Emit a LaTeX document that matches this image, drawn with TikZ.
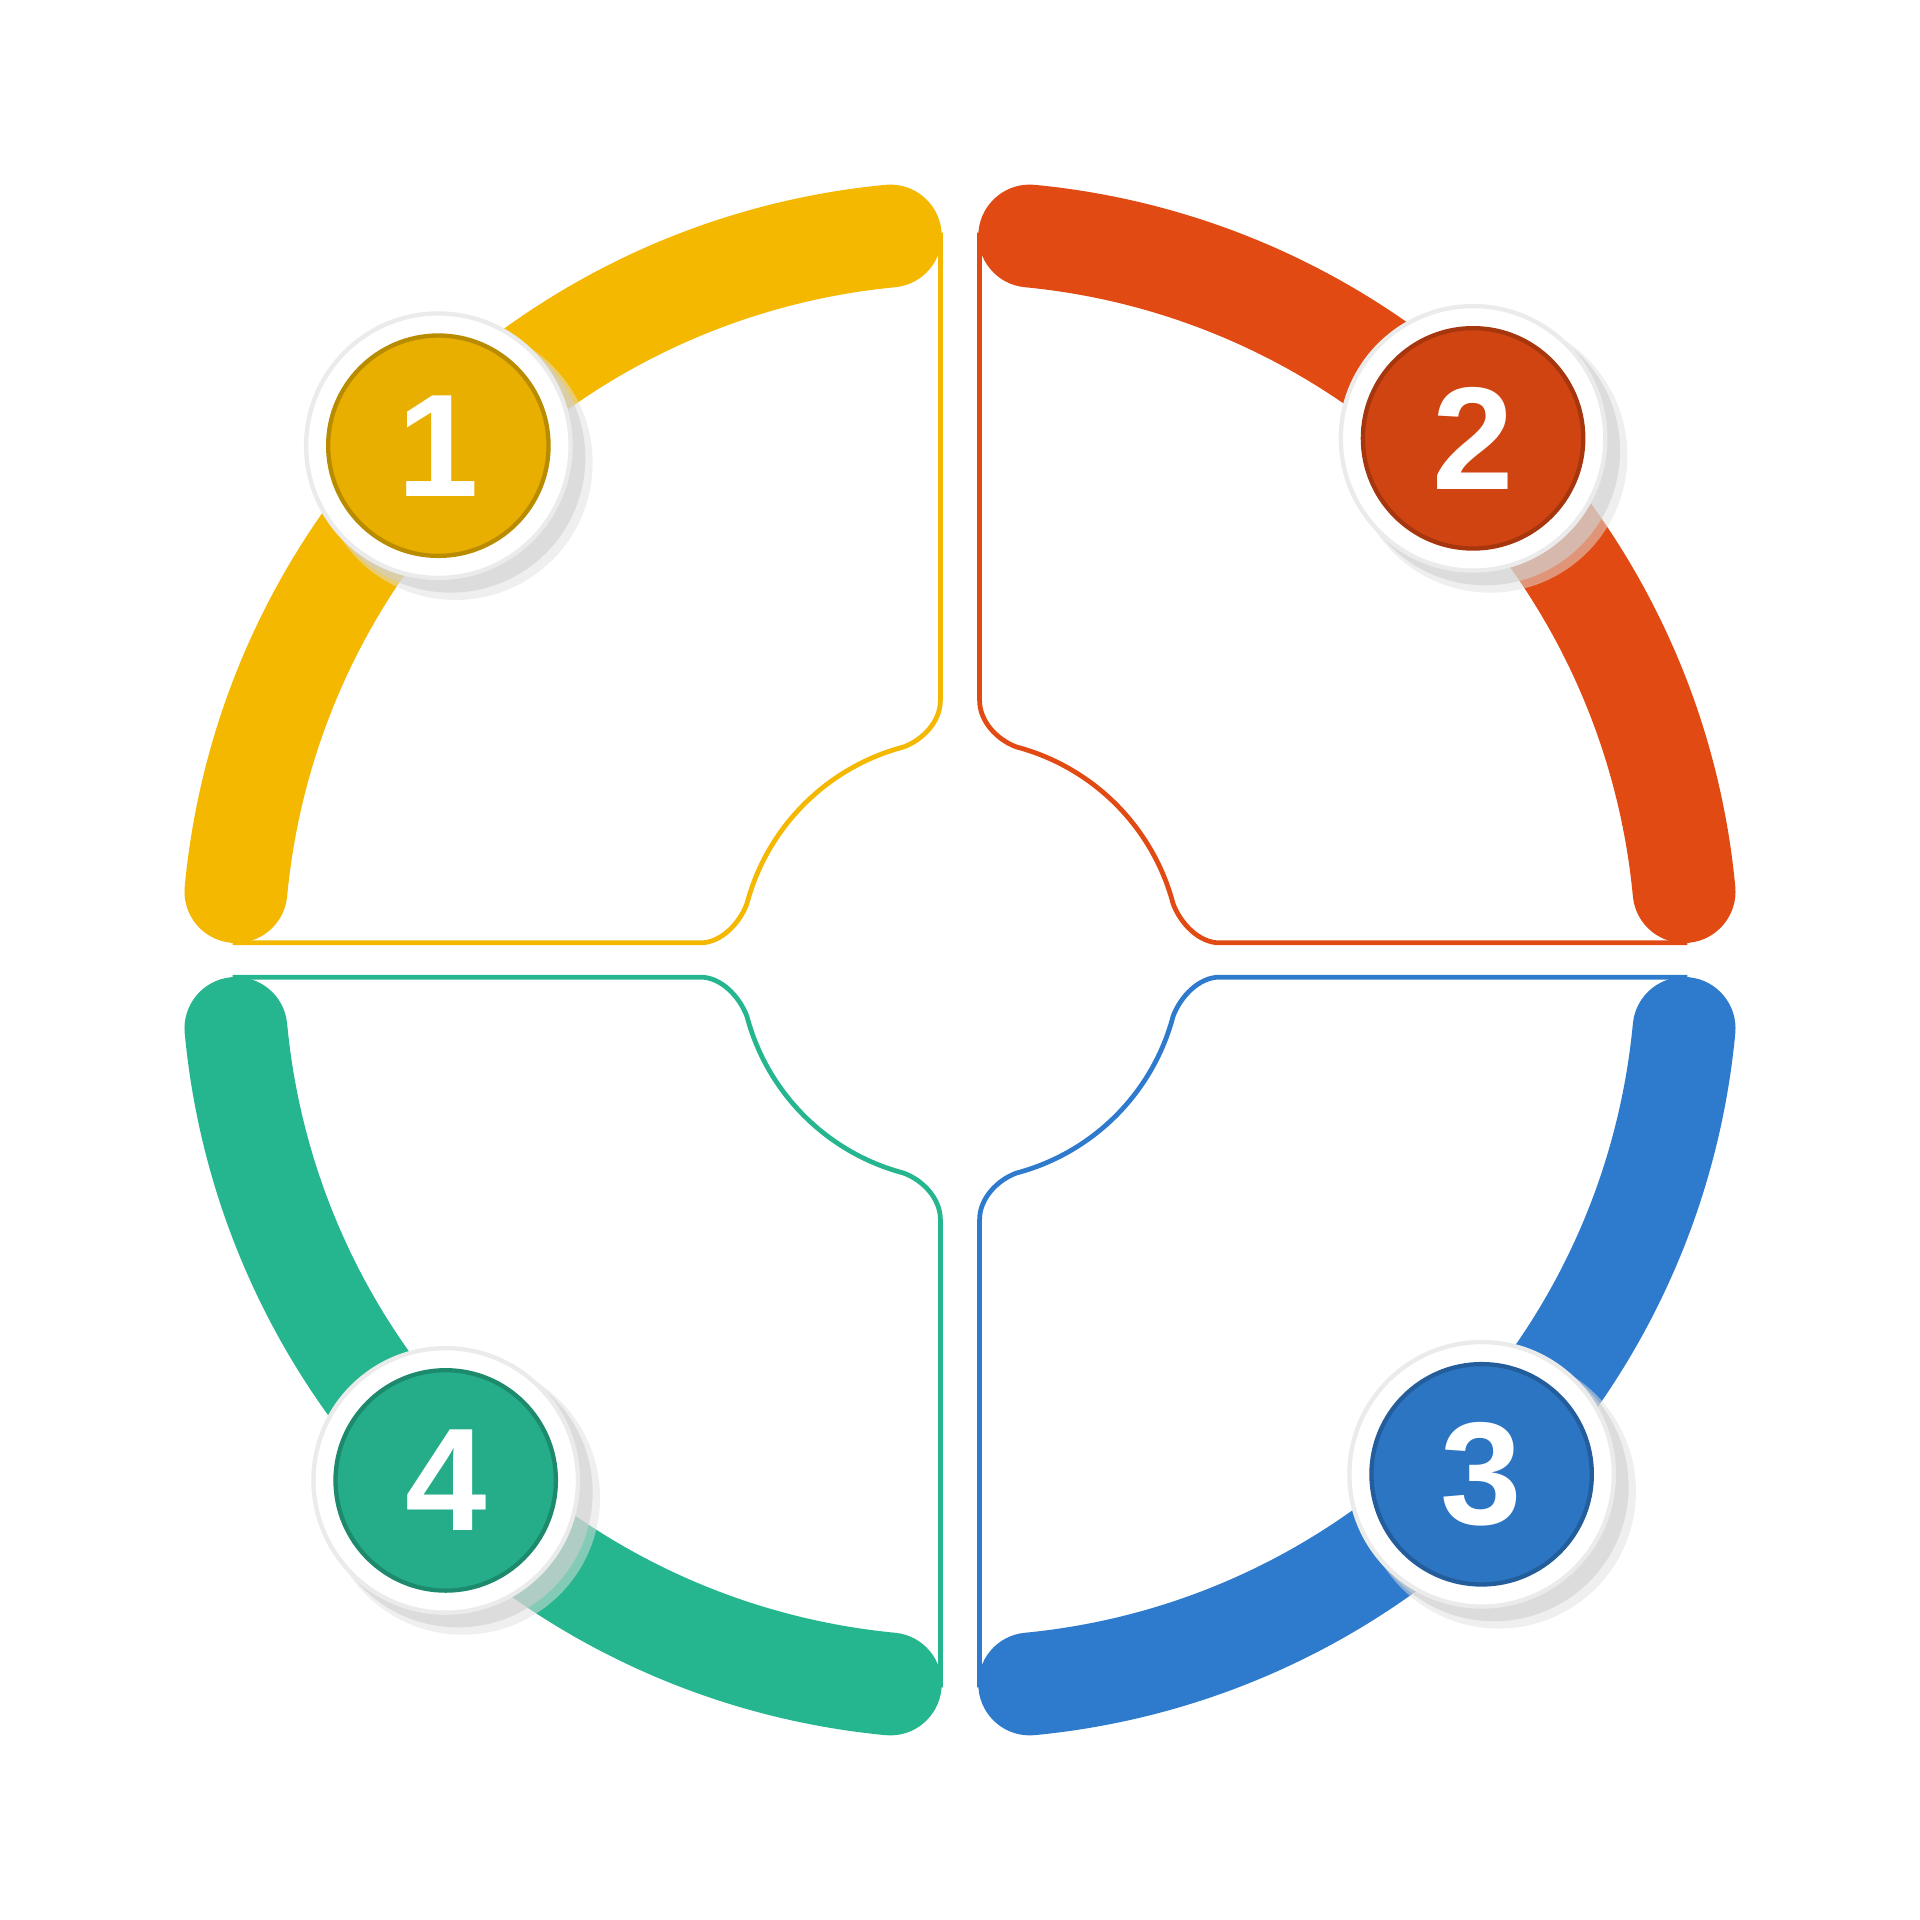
\documentclass[tikz,border=0pt]{standalone}
\usepackage{fontspec}
\setmainfont{Liberation Sans}
\usetikzlibrary{calc}
\definecolor{cY}{HTML}{F4B800}
\definecolor{cR}{HTML}{E14A12}
\definecolor{cB}{HTML}{2E7BCD}
\definecolor{cG}{HTML}{26B68F}
\begin{document}
\begin{tikzpicture}
\useasboundingbox[fill=white] (-7.84,-7.84) rectangle (7.84,7.84);
\tikzset{band/.style={line width=0.84cm,line cap=round},
 outl/.style={line width=1.1pt},
 num/.style={text=white,font=\bfseries\fontsize{34}{34}\selectfont}}
\newcommand{\myquad}[3]{%
\begin{scope}[xscale=#1,yscale=#2]
 \draw[band,#3] (95.5:5.94) arc[start angle=95.5,end angle=174.6,radius=5.94];
 \draw[outl,#3] (-0.16,5.94) -- (-0.16,2.12) .. controls (-0.16,1.95) and (-0.3,1.8) .. (104.8:1.8)
   arc[start angle=104.8,end angle=165.2,radius=1.8]
   .. controls (-1.8,0.3) and (-1.95,0.14) .. (-2.12,0.14) -- (-5.94,0.14);
\end{scope}}
\myquad{1}{1}{cY}
\myquad{-1}{1}{cR}
\myquad{-1}{-1}{cB}
\myquad{1}{-1}{cG}
\newcommand{\mybadge}[4]{%
 \fill[black!25,opacity=0.6] ($(#1)+(0.1,-0.1)$) circle (1.1);
 \fill[black!12,opacity=0.5] ($(#1)+(0.14,-0.14)$) circle (1.12);
 \node[circle,minimum size=2.16cm,fill=white,draw=black!8,line width=1pt] (#4o) at (#1) {};
 \node[circle,minimum size=1.8cm,fill=#2,draw=#2!80!black,line width=1pt,num] (#4) at (#1) {#3};}
\mybadge{-4.26,4.20}{cY!95!black}{1}{b1}
\mybadge{4.19,4.26}{cR!92!black}{2}{b2}
\mybadge{4.26,-4.20}{cB!95!black}{3}{b3}
\mybadge{-4.20,-4.25}{cG!95!black}{4}{b4}
\end{tikzpicture}
\end{document}
